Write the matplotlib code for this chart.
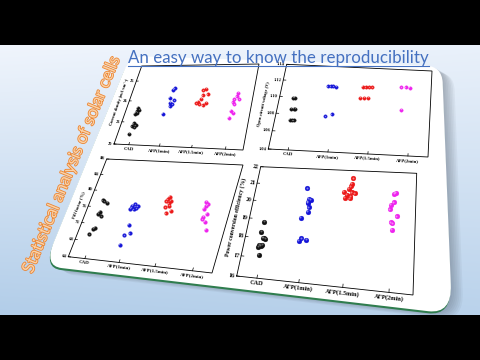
import numpy as np
import matplotlib
matplotlib.use("Agg")
import matplotlib.pyplot as plt
import matplotlib.transforms as mtransforms
import matplotlib.patches as mpatches
import matplotlib.patheffects as pe
from matplotlib import font_manager

CATEGORIES = ["CAD", "AFP(1min)", "AFP(1.5min)", "AFP(2min)"]
COLORS = ["#111111", "#1414d8", "#ec1818", "#ee22ee"]

# Current density (mA cm-2): values per category and horizontal jitter
JSC_CAD = [23.34, 23.03, 22.86, 23.18, 22.79, 21.90, 21.74, 21.64, 21.52, 20.94]
JSC_AFP1 = [25.28, 25.12, 24.34, 24.12, 23.87, 23.71, 23.56, 22.84]
JSC_AFP15 = [25.20, 25.08, 24.68, 24.58, 24.28, 23.98, 23.76, 23.92, 23.85, 23.67]
JSC_AFP2 = [24.85, 24.55, 24.25, 24.25, 23.96, 23.80, 23.21, 23.06, 22.61]
JSC_DX = [[-0.11, -0.12, -0.07, -0.05, -0.15, -0.07, 0.02, -0.11, -0.01, -0.10],
          [-0.06, -0.10, -0.13, 0.05, -0.06, 0.02, -0.05, -0.20],
          [0.0, -0.10, 0.09, -0.06, -0.09, -0.17, -0.10, 0.10, -0.21, 0.02],
          [0.03, 0.01, -0.05, 0.11, -0.08, -0.02, -0.08, 0.01, -0.09]]

# Open-circuit voltage (V)
VOC_CAD = [1.099, 1.099, 1.086, 1.086, 1.086, 1.073, 1.073, 1.073]
VOC_AFP1 = [1.115, 1.115, 1.115, 1.115, 1.079, 1.082]
VOC_AFP15 = [1.116, 1.116, 1.116, 1.116, 1.103, 1.103, 1.103]
VOC_AFP2 = [1.118, 1.118, 1.118, 1.091]
VOC_DX = [[-0.14, -0.10, -0.13, -0.07, -0.03, -0.11, -0.05, 0.0],
          [-0.28, -0.20, -0.12, -0.05, -0.21, -0.05],
          [-0.34, -0.25, -0.16, -0.08, -0.36, -0.26, -0.15],
          [-0.30, -0.18, -0.07, -0.26]]

# Fill factor (%)
FF_CAD = [77.40, 77.15, 77.64, 74.85, 74.36, 73.88, 71.04, 70.84, 69.50]
FF_AFP1 = [76.88, 77.26, 76.88, 76.08, 76.08, 76.32, 76.48, 72.39, 70.57, 70.03, 67.80]
FF_AFP15 = [79.58, 79.02, 78.65, 78.49, 78.03, 77.50, 77.11, 76.35, 75.73]
FF_AFP2 = [78.99, 78.45, 78.09, 77.33, 76.36, 75.62, 75.08, 74.56, 72.83]
FF_DX = [[-0.07, 0.03, -0.12, -0.09, -0.10, 0.01, -0.05, -0.09, -0.14],
         [-0.20, -0.13, -0.04, -0.22, -0.12, -0.05, -0.20, -0.10, 0.01, -0.12, -0.15],
         [-0.23, -0.26, -0.15, -0.28, -0.19, -0.15, -0.25, -0.06, -0.18],
         [-0.18, -0.12, -0.15, -0.19, -0.08, -0.14, -0.15, -0.07, 0.02]]

# Power conversion efficiency (%)
PCE_CAD = [18.84, 18.31, 18.02, 17.97, 18.00, 17.63, 17.59, 17.63, 17.54, 17.12]
PCE_AFP1 = [20.85, 20.26, 20.20, 20.11, 20.03, 19.80, 19.55, 19.20, 18.15, 18.01, 18.08]
PCE_AFP15 = [21.56, 21.24, 21.10, 20.96, 20.76, 20.76, 20.72, 20.59, 20.54, 20.45, 20.42]
PCE_AFP2 = [20.85, 20.79, 20.34, 20.21, 19.96, 19.63, 19.30, 19.25, 18.91]
PCE_DX = [[-0.09, -0.12, -0.06, 0.02, -0.02, -0.10, -0.06, -0.03, -0.12, -0.06],
          [-0.15, -0.06, -0.02, -0.09, -0.07, -0.03, -0.04, -0.19, -0.10, -0.15, 0.03],
          [-0.02, -0.04, -0.07, -0.10, -0.21, -0.02, 0.05, -0.13, -0.05, -0.18, -0.06],
          [0.03, 0.0, 0.0, -0.07, -0.08, 0.08, -0.05, -0.01, -0.02]]

TITLE = "An easy way to know the reproducibility"
SIDE_TEXT = "Statistical analysis of solar cells"

# panel geometry on the tilted slide (pixel coords, y down): BL, BR, TR, TL
PANELS = [
    dict(values=[JSC_CAD, JSC_AFP1, JSC_AFP15, JSC_AFP2], dx=JSC_DX,
         corners=[(114, 144), (243, 150), (259, 64), (141.7, 66)],
         ylim=(20, 27.6), yticks=[20, 22, 24, 26], fmt="{:.0f}",
         ylabel="Current density (mA·cm⁻²)", fs=3.3, lab_off=5.5, ms=2.5),
    dict(values=[VOC_CAD, VOC_AFP1, VOC_AFP15, VOC_AFP2], dx=VOC_DX,
         corners=[(268.3, 149), (428, 157), (432, 71), (286.7, 64.3)],
         ylim=(1.04, 1.14), yticks=[1.04, 1.06, 1.08, 1.10, 1.12, 1.14], fmt="{:.2f}",
         ylabel="Open-circuit voltage (V)", fs=3.4, lab_off=8.5, ms=2.5),
    dict(values=[FF_CAD, FF_AFP1, FF_AFP15, FF_AFP2], dx=FF_DX,
         corners=[(68.3, 256.7), (212, 273), (243, 165), (106.7, 159)],
         ylim=(64, 88), yticks=[64, 68, 72, 76, 80, 84, 88], fmt="{:.0f}",
         ylabel="Fill factor (%)", fs=3.6, lab_off=6.0, ms=2.7),
    dict(values=[PCE_CAD, PCE_AFP1, PCE_AFP15, PCE_AFP2], dx=PCE_DX,
         corners=[(236.7, 276), (413, 295), (416.7, 173.3), (260.7, 166.7)],
         ylim=(16, 22), yticks=[16, 17, 18, 19, 20, 21, 22], fmt="{:.0f}",
         ylabel="Power conversion efficiency (%)", fs=4.5, lab_off=7.5, ms=3.5),
]
SLIDE = [(44, 266), (452, 314), (442, 66), (130, 56)]

SERIF = ["Liberation Serif", "DejaVu Serif"]
_names = {f.name for f in font_manager.fontManager.ttflist}
SIDE_FONT = "Liberation Sans Narrow" if "Liberation Sans Narrow" in _names else "Lato"


class Homography(mtransforms.Transform):
    """Maps the unit square onto a quadrilateral (perspective warp)."""
    input_dims = 2
    output_dims = 2
    is_separable = False

    def __init__(self, corners):
        super().__init__()
        src = [(0, 0), (1, 0), (1, 1), (0, 1)]
        rows, rhs = [], []
        for (x, y), (X, Y) in zip(src, corners):
            rows.append([x, y, 1, 0, 0, 0, -x * X, -y * X]); rhs.append(X)
            rows.append([0, 0, 0, x, y, 1, -x * Y, -y * Y]); rhs.append(Y)
        h = np.linalg.solve(np.array(rows, float), np.array(rhs, float))
        self.H = np.append(h, 1.0).reshape(3, 3)

    def transform_non_affine(self, values):
        xy = np.asarray(values, float).reshape(-1, 2)
        p = np.column_stack([xy, np.ones(len(xy))]) @ self.H.T
        return p[:, :2] / p[:, 2:3]


def screen_angle(trans, p, q):
    a, b = trans.transform(np.array([p, q], float))
    return np.degrees(np.arctan2(b[1] - a[1], b[0] - a[0]))


def draw_panel(fig, ax, spec):
    x0, x1 = 0.5, 4.5
    y0, y1 = spec["ylim"]
    norm = mtransforms.Affine2D().translate(-x0, -y0).scale(1 / (x1 - x0), 1 / (y1 - y0))
    trans = norm + Homography(spec["corners"]) + ax.transData
    fs = spec["fs"]

    ax.plot([x0, x1, x1, x0, x0], [y0, y0, y1, y1, y0], color="black", lw=0.6,
            transform=trans, zorder=6, solid_joinstyle="miter")
    tly = 0.025 * (y1 - y0)
    for i in range(len(CATEGORIES)):
        ax.plot([i + 1, i + 1], [y0, y0 + tly], color="black", lw=0.5, transform=trans, zorder=6)
    for yt in spec["yticks"]:
        ax.plot([x0, x0 + 0.07], [yt, yt], color="black", lw=0.5, transform=trans, zorder=6)

    bottom_ang = screen_angle(trans, (x0, y0), (x1, y0))
    left_ang = screen_angle(trans, (x0, y0), (x0, y1))

    xlab_tr = mtransforms.offset_copy(trans, fig=fig, x=0, y=-1.6, units="points")
    for i, cat in enumerate(CATEGORIES):
        ax.text(i + 1, y0, cat, transform=xlab_tr, ha="center", va="top",
                rotation=bottom_ang, rotation_mode="anchor", fontsize=fs,
                family=SERIF, weight="bold", zorder=6)
    ylab_tr = mtransforms.offset_copy(trans, fig=fig, x=-1.3, y=0, units="points")
    for yt in spec["yticks"]:
        ax.text(x0, yt, spec["fmt"].format(yt), transform=ylab_tr, ha="right", va="center",
                rotation=bottom_ang, rotation_mode="anchor", fontsize=fs * 0.95,
                family=SERIF, weight="bold", zorder=6)
    name_tr = mtransforms.offset_copy(trans, fig=fig, x=-spec["lab_off"], y=0, units="points")
    ax.text(x0, (y0 + y1) / 2, spec["ylabel"], transform=name_tr, ha="center", va="bottom",
            rotation=left_ang, rotation_mode="anchor", fontsize=fs * 0.92,
            family=SERIF, weight="bold", zorder=6)

    ms = spec["ms"]
    hi_tr = mtransforms.offset_copy(trans, fig=fig, x=-ms * 0.14, y=ms * 0.14, units="points")
    for i, (vals, dx) in enumerate(zip(spec["values"], spec["dx"])):
        xs = np.full(len(vals), i + 1.0) + np.array(dx)
        ax.plot(xs, vals, "o", ms=ms, mfc=COLORS[i], mec=COLORS[i], mew=0.2,
                transform=trans, zorder=7)
        ax.plot(xs, vals, "o", ms=ms * 0.4, mfc="white", mec="none",
                alpha=0.45 if i else 0.35, transform=hi_tr, zorder=8)


def fit_text(fig, txt, target_px):
    fig.canvas.draw()
    w = txt.get_window_extent().width
    txt.set_fontsize(txt.get_fontsize() * target_px / w)


def main():
    fig = plt.figure(figsize=(4.8, 3.6), dpi=100)
    ax = fig.add_axes([0, 0, 1, 1])
    ax.set_xlim(0, 480)
    ax.set_ylim(360, 0)
    ax.axis("off")

    # light blue backdrop
    t = np.linspace(0, 1, 200)[:, None, None]
    s = np.linspace(0, 1, 300)[None, :, None]
    top = np.array([0.94, 0.96, 0.99])
    bot = np.array([0.69, 0.80, 0.91])
    w = np.clip(0.85 * t + 0.12 * (1 - s) * t + 0.1 * s * (1 - t), 0, 1)
    grad = top * (1 - w) + bot * w
    ax.imshow(grad, extent=[0, 480, 315, 45], aspect="auto", zorder=0, interpolation="bilinear")

    # slide: shadow, green edge, white face
    slide_norm = mtransforms.Affine2D().scale(1 / 1.8, 1.0)
    slide_h = Homography(SLIDE)
    for k in range(1, 8):
        sh = mpatches.FancyBboxPatch((0, 0), 1.8, 1, boxstyle="round,pad=0,rounding_size=0.09",
                                     transform=slide_norm + slide_h
                                     + mtransforms.Affine2D().translate(1.7 * k, 1.0 * k) + ax.transData,
                                     facecolor="#58626e", edgecolor="none", alpha=0.07, zorder=1)
        ax.add_patch(sh)
    edge = mpatches.FancyBboxPatch((0, 0), 1.8, 1, boxstyle="round,pad=0,rounding_size=0.09",
                                   transform=slide_norm + slide_h
                                   + mtransforms.Affine2D().translate(-0.5, 2.0) + ax.transData,
                                   facecolor="#2f7d4e", edgecolor="none", zorder=2)
    ax.add_patch(edge)
    face = mpatches.FancyBboxPatch((0, 0), 1.8, 1, boxstyle="round,pad=0,rounding_size=0.09",
                                   transform=slide_norm + slide_h + ax.transData,
                                   facecolor="white", edgecolor="none", zorder=3)
    ax.add_patch(face)

    for spec in PANELS:
        draw_panel(fig, ax, spec)

    # title with underline
    title = ax.text(128, 63, TITLE, ha="left", va="baseline", fontsize=11.5,
                    family=["Lato", "DejaVu Sans"], color="#4470c0", zorder=9)
    fit_text(fig, title, 299)
    fig.canvas.draw()
    bb = title.get_window_extent().transformed(ax.transData.inverted())
    ax.plot([bb.x0, bb.x1], [65.6, 65.6], color="#4470c0", lw=0.8, zorder=9)

    # rotated side caption
    side = ax.text(71.5, 164.5, SIDE_TEXT, ha="center", va="center", fontsize=12,
                   family=[SIDE_FONT, "DejaVu Sans"], color="#fbd2a6", zorder=9,
                   rotation_mode="anchor")
    side.set_path_effects([pe.Stroke(linewidth=1.2, foreground="#ec8532"), pe.Normal()])
    fit_text(fig, side, 232)
    side.set_rotation(67.8)

    # letterbox bars
    ax.add_patch(mpatches.Rectangle((0, 0), 480, 45, facecolor="black", zorder=20))
    ax.add_patch(mpatches.Rectangle((0, 315), 480, 45, facecolor="black", zorder=20))

    fig.savefig("out.png", dpi=100)
    plt.close(fig)


if __name__ == "__main__":
    main()
